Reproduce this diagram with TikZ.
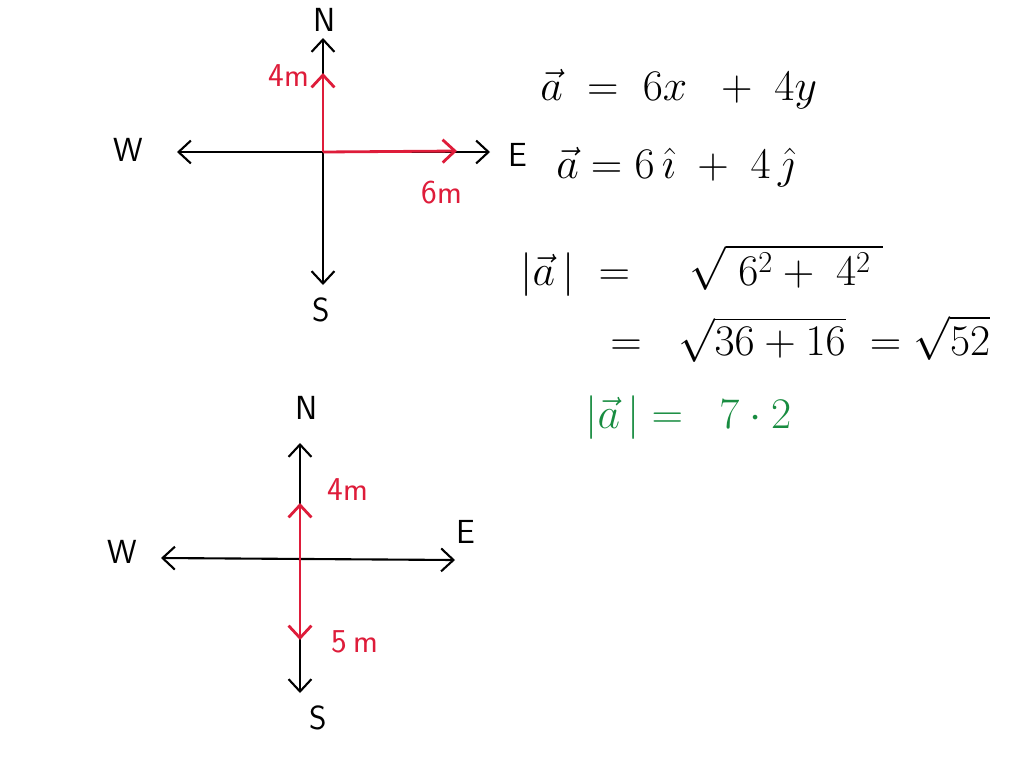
\documentclass[tikz,border=0pt]{standalone}
\usepackage{amsmath,amssymb}
\usepackage{xcolor}
\usepackage{tikz}
\usetikzlibrary{arrows.meta,positioning}

\definecolor{vecred}{RGB}{222,28,58}
\definecolor{ansgreen}{RGB}{24,140,64}

\tikzset{
    axis/.style={line width=1.2pt, {Straight Barb[length=7pt,width=13pt]}-{Straight Barb[length=7pt,width=13pt]}},
    vecarrow/.style={vecred, line width=1.6pt, -{Straight Barb[length=7pt,width=13pt]}},
    dirlabel/.style={font=\sffamily\fontsize{19}{21}\selectfont},
    veclabel/.style={vecred, font=\sffamily\fontsize{19}{21}\selectfont},
    eqline/.style={anchor=base west, inner sep=0pt, font=\fontsize{27}{30}\selectfont}
}

\begin{document}
\begin{tikzpicture}[x=0.02cm, y=-0.02cm]
    \useasboundingbox (0,0) rectangle (1024,768);

    % Compass 1: 6m east, 4m north
    \coordinate (oa) at (323,152);
    \coordinate (na) at (323,38);
    \coordinate (sa) at (323,285);
    \coordinate (wa) at (177,152);
    \coordinate (ea) at (490,152);
    \coordinate (fa) at (323,73);
    \coordinate (ga) at (457,151);

    \draw[axis] (wa) -- (ea);
    \draw[axis] (sa) -- (na);

    \node[dirlabel] (lna) at (325,20) {N};
    \node[dirlabel] (lsa) at (321,310) {S};
    \node[dirlabel] (lwa) at (128,150) {W};
    \node[dirlabel] (lea) at (518,155) {E};

    \draw[vecarrow] (oa) -- (fa);
    \draw[vecarrow] (oa) -- (ga);
    \node[veclabel] (fourm) at (289,76) {4m};
    \node[veclabel] (sixm) at (442,193) {6m};

    % Working
    \node[eqline] (eqa) at (540,100) {$\vec{a}\;=\;6x\;\;+\;4y$};
    \node[eqline] (eqb) at (556,178) {$\vec{a}=6\,\hat{\imath}\;+\;4\,\hat{\jmath}$};
    \node[eqline] (eqc) at (520,285) {$|\vec{a}\,|\;=\quad\sqrt{\;6^{2}+\;4^{2}\;}$};
    \node[eqline, font=\fontsize{24}{28}\selectfont] (eqd) at (610,355) {$=\;\;\sqrt{36+16}\;=\sqrt{52}$};
    \node[eqline, ansgreen] (eqe) at (585,428) {$|\vec{a}\,|=\;\;7\cdot2$};

    % Compass 2: 4m north, 5m south
    \coordinate (ob) at (300,558);
    \coordinate (nb) at (300,443);
    \coordinate (sb) at (300,693);
    \coordinate (wb) at (161,558);
    \coordinate (eb) at (455,560);
    \coordinate (fb) at (300,503);
    \coordinate (gb) at (300,640);

    \draw[axis] (wb) -- (eb);
    \draw[axis] (sb) -- (nb);

    \node[dirlabel] (lnb) at (307,408) {N};
    \node[dirlabel] (lsb) at (318,718) {S};
    \node[dirlabel] (lwb) at (122,552) {W};
    \node[dirlabel] (leb) at (466,532) {E};

    \draw[vecarrow] (ob) -- (fb);
    \draw[vecarrow] (ob) -- (gb);
    \node[veclabel] (fourmb) at (348,490) {4m};
    \node[veclabel] (fivem) at (355,642) {5\,m};
\end{tikzpicture}
\end{document}
